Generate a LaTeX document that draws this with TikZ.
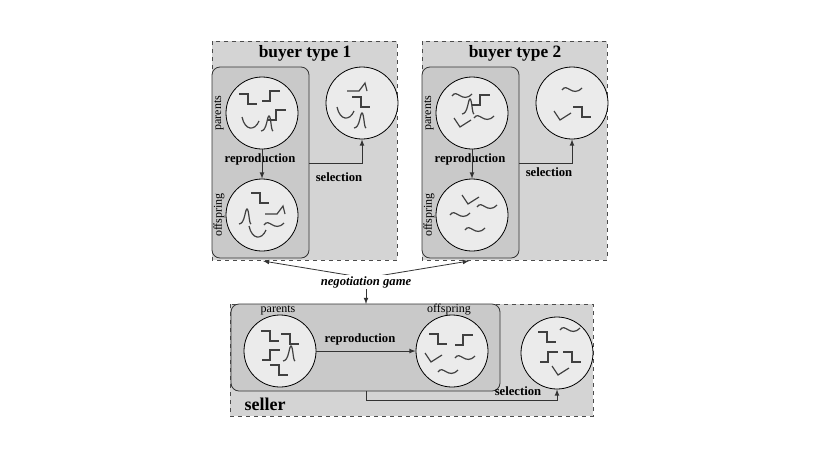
\documentclass[tikz,border=0pt]{standalone}
\usepackage{fontspec}
\setmainfont{Liberation Serif}
\begin{document}
\begin{tikzpicture}[x=0.75pt,y=-0.75pt,
  outerbox/.style={draw=black!70,dashed,fill=black!17,line width=0.6pt},
  innerbox/.style={draw=black!80,fill=black!21,rounded corners=6pt,line width=0.6pt},
  pool/.style={circle,draw=black,fill=black!8,minimum size=54pt,inner sep=0pt,line width=0.6pt},
  lbl/.style={font=\bfseries\fontsize{9.5}{11}\selectfont},
  ttl/.style={font=\bfseries\fontsize{13}{15}\selectfont},
  side/.style={font=\fontsize{9}{10}\selectfont},
  conn/.style={-latex,line width=0.6pt,draw=black!80},
  g/.style={line width=0.9pt,draw=black!75},
  stepup/.pic={\draw[g] (-9,5)--(-1,5)--(-1,-5)--(9,-5);},
  stepdn/.pic={\draw[g] (-9,-5)--(0,-5)--(0,5)--(9,5);},
  bump/.pic={\draw[g] (-8,6) .. controls (-2,6) and (-2,-9) .. (0,-9) .. controls (2,-9) and (2,6) .. (4,6);},
  valley/.pic={\draw[g] (-9,-6) .. controls (-6,8) and (4,8) .. (8,-2);},
  peak/.pic={\draw[g] (-10,4)--(2,4)--(8,-4)--(10,4);},
  vee/.pic={\draw[g] (-8,-4)--(-2,5)--(9,-2);},
  wave/.pic={\draw[g] (-10,0) .. controls (-5,-8) and (0,8) .. (10,-2);}
]
\useasboundingbox (0,0) rectangle (820,458);
\fill[white] (0,0) rectangle (820,458);

% ---------- buyer type 1 ----------
\draw[outerbox] (212,41) rectangle (397,260);
\draw[innerbox] (212,67) rectangle (309,258);
\node[ttl] (t1) at (305,53) {buyer type 1};
\node[pool] (p1) at (262,113) {};
\node[pool] (o1) at (262,215) {};
\node[pool] (s1) at (362,103) {};
\node[side,rotate=90] (lp1) at (219,113) {parents};
\node[side,rotate=90] (lo1) at (219,215) {offspring};
\draw pic at (248,99) {stepdn} pic at (271,96) {stepup} pic at (277,115) {stepup}
      pic at (251,123) {valley} pic at (269,125) {bump};
\draw pic at (361,102) {stepdn} pic at (346,113) {valley} pic at (362,122) {bump}
      pic at (357,87) {peak};
\draw pic at (260,198) {stepdn} pic at (275,210) {peak} pic at (247,218) {bump}
      pic at (274,225) {wave} pic at (258,232) {valley};
\node[lbl] (r1) at (260,159) {reproduction};
\node[lbl] (se1) at (339,177) {selection};
\draw[conn] (p1.south) -- (o1.north);
\coordinate (b1r) at (309,163);
\draw[conn] (b1r) -| (s1.south);

% ---------- buyer type 2 ----------
\draw[outerbox] (422,41) rectangle (607,260);
\draw[innerbox] (422,67) rectangle (519,258);
\node[ttl] (t2) at (515,53) {buyer type 2};
\node[pool] (p2) at (472,113) {};
\node[pool] (o2) at (472,215) {};
\node[pool] (s2) at (572,103) {};
\node[side,rotate=90] (lp2) at (429,113) {parents};
\node[side,rotate=90] (lo2) at (429,215) {offspring};
\draw pic at (462,96) {wave} pic at (481,100) {stepup} pic at (462,122) {vee}
      pic at (484,118) {wave} pic at (470,108) {bump};
\draw pic at (572,90) {wave} pic at (562,115) {vee} pic at (582,112) {stepdn};
\draw pic at (470,199) {vee} pic at (487,207) {wave} pic at (460,215) {wave}
      pic at (475,230) {wave};
\node[lbl] (r2) at (470,159) {reproduction};
\node[lbl] (se2) at (549,172) {selection};
\draw[conn] (p2.south) -- (o2.north);
\coordinate (b2r) at (519,163);
\draw[conn] (b2r) -| (s2.south);

% ---------- seller ----------
\draw[outerbox] (230,304) rectangle (593,416);
\draw[innerbox] (231,304) rectangle (500,391);
\node[font=\bfseries\fontsize{13.5}{15}\selectfont] (sl) at (265,404) {seller};
\node[pool] (p3) at (280,351) {};
\node[pool] (o3) at (452,351) {};
\node[pool] (s3) at (557,353) {};
\node[side] (lp3) at (278,310) {parents};
\node[side] (lo3) at (449,310) {offspring};
\draw pic at (270,336) {stepdn} pic at (290,339) {stepdn} pic at (271,355) {stepup}
      pic at (291,355) {bump} pic at (279,370) {stepdn};
\draw pic at (438,339) {stepdn} pic at (464,340) {stepup} pic at (433,357) {vee}
      pic at (465,358) {wave} pic at (448,372) {wave};
\draw pic at (547,337) {stepdn} pic at (570,330) {wave} pic at (549,357) {stepup}
      pic at (572,357) {stepdn} pic at (560,370) {vee};
\node[lbl] (r3) at (360,339) {reproduction};
\node[lbl] (se3) at (518,391) {selection};
\draw[conn] (p3.east) -- (o3.west);
\coordinate (b3b) at (366,391);
\coordinate (b3c) at (366,400);
\draw[conn] (b3b) -- (b3c) -| (s3.south);

% ---------- negotiation game ----------
\coordinate (hub) at (366,278);
\coordinate (b1b) at (263,261);
\coordinate (b2b) at (469,261);
\coordinate (sellt) at (366,304);
\draw[conn] (hub) -- (b1b);
\draw[conn] (hub) -- (b2b);
\node[font=\bfseries\itshape\fontsize{9.5}{11}\selectfont,fill=white,inner sep=1pt] (ng) at (366,282) {negotiation game};
\draw[conn] (ng.south) -- (sellt);
\end{tikzpicture}
\end{document}
